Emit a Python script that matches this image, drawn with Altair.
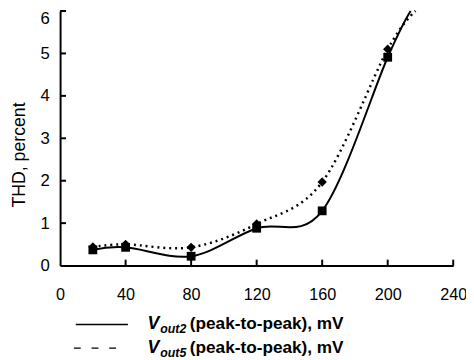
import altair as alt
import pandas as pd

# ---- data ----
x_meas = [20, 40, 80, 120, 160, 200]
vout2 = [0.37, 0.43, 0.22, 0.88, 1.29, 4.91]
vout5 = [0.44, 0.50, 0.43, 0.98, 1.97, 5.10]
# where each curve leaves the top of the plot (y = 6)
vout2_tail = (214, 6.0)
vout5_tail = (217, 6.0)

x_ticks = [0, 40, 80, 120, 160, 200, 240]
y_ticks = [0, 1, 2, 3, 4, 5, 6]

series_names = ["out2", "out5"]
legend_rest = "(peak-to-peak), mV"

FONT = "Liberation Sans"

line2 = pd.DataFrame({"x": x_meas + [vout2_tail[0]], "y": vout2 + [vout2_tail[1]]})
line5 = pd.DataFrame({"x": x_meas + [vout5_tail[0]], "y": vout5 + [vout5_tail[1]]})
pts2 = pd.DataFrame({"x": x_meas, "y": vout2})
pts5 = pd.DataFrame({"x": x_meas, "y": vout5})

xscale = alt.Scale(domain=[0, 240], nice=False, zero=False)
yscale = alt.Scale(domain=[0, 6], nice=False, zero=False)

x_axis = alt.Axis(
    values=x_ticks, title=None, grid=False, ticks=False, tickSize=0,
    labelFontSize=16.5, labelFont=FONT, labelColor="black", labelPadding=22,
    labelFlush=False, domainColor="black", domainWidth=2,
)
y_axis = alt.Axis(
    values=y_ticks, title="THD, percent", grid=False, ticks=False, tickSize=0,
    labelFontSize=17, labelFont=FONT, labelColor="black", labelPadding=11,
    labelFlush=False, domainColor="black", domainWidth=2,
    labelBaseline={"condition": {"test": "datum.value == 6", "value": "top"}, "value": "middle"},
    titleFont=FONT, titleFontSize=18, titleFontWeight="normal", titleColor="black",
    titleX=-32, titleY=146,
)

X = alt.X("x:Q", scale=xscale, axis=x_axis)
Y = alt.Y("y:Q", scale=yscale, axis=y_axis)

solid = alt.Chart(line2).mark_line(
    interpolate="cardinal", color="black", strokeWidth=2
).encode(x=X, y=Y)

dotted = alt.Chart(line5).mark_line(
    interpolate="cardinal", color="black", strokeWidth=2.5, strokeDash=[2, 4]
).encode(x=alt.X("x:Q", scale=xscale), y=alt.Y("y:Q", scale=yscale))

sq = alt.Chart(pts2).mark_point(
    shape="square", filled=True, color="black", size=80, opacity=1
).encode(x=alt.X("x:Q", scale=xscale), y=alt.Y("y:Q", scale=yscale))

dia = alt.Chart(pts5).mark_point(
    shape="diamond", filled=True, color="black", size=90, opacity=1
).encode(x=alt.X("x:Q", scale=xscale), y=alt.Y("y:Q", scale=yscale))

# inward ticks
xt = alt.Chart(pd.DataFrame({"x": x_ticks[1:]})).mark_rule(color="black", strokeWidth=2).encode(
    x=alt.X("x:Q", scale=xscale), y=alt.value(259), y2=alt.value(253)
)
yt = alt.Chart(pd.DataFrame({"y": y_ticks[1:]})).mark_rule(color="black", strokeWidth=2).encode(
    y=alt.Y("y:Q", scale=yscale), x=alt.value(0), x2=alt.value(6)
)

# legend (drawn below the axis)
leg_solid = alt.Chart(pd.DataFrame({"k": [0]})).mark_rule(color="black", strokeWidth=1.5).encode(
    x=alt.value(16), x2=alt.value(69), y=alt.value(319)
)
leg_dash = alt.Chart(pd.DataFrame({"k": [0]})).mark_rule(
    color="black", strokeWidth=1.5, strokeDash=[7, 11]
).encode(x=alt.value(14), x2=alt.value(59), y=alt.value(343))

leg_rows = pd.DataFrame({"name": series_names, "rest": [legend_rest, legend_rest], "row": [0, 1]})


def legend_text(row, ypos):
    d = leg_rows[leg_rows.row == row]
    v = alt.Chart(d).mark_text(
        text="V", font=FONT, fontSize=18, fontStyle="italic", fontWeight="bold",
        align="left", baseline="middle", color="black"
    ).encode(x=alt.value(89), y=alt.value(ypos))
    sub = alt.Chart(d).mark_text(
        font=FONT, fontSize=12.5, fontStyle="italic", fontWeight="bold",
        align="left", baseline="middle", color="black"
    ).encode(text="name:N", x=alt.value(102), y=alt.value(ypos + 5))
    rest = alt.Chart(d).mark_text(
        font=FONT, fontSize=17.5, fontWeight="bold", align="left", baseline="middle", color="black"
    ).encode(text="rest:N", x=alt.value(132), y=alt.value(ypos))
    return [v, sub, rest]


layers = [solid, dotted, sq, dia, xt, yt, leg_solid, leg_dash] + legend_text(0, 319) + legend_text(1, 343)

chart = alt.layer(*layers).properties(
    width=400, height=259,
    autosize=alt.AutoSizeParams(type="none"),
    padding={"left": 53, "top": 0, "right": 13, "bottom": 93},
).configure_view(stroke=None).configure_axis(grid=False)

chart.save("out.html", embed_options={"renderer": "svg", "actions": False})
